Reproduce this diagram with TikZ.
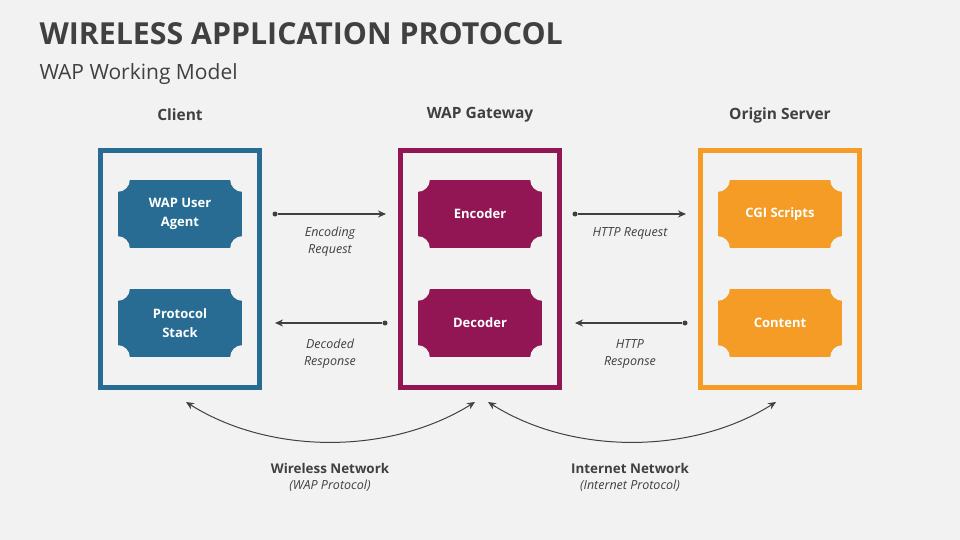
\documentclass[tikz,border=0pt]{standalone}
\usepackage{fontspec}
\setmainfont{Open Sans}
\usetikzlibrary{arrows.meta}
\definecolor{bg}{HTML}{F2F2F2}
\definecolor{cb}{HTML}{286C93}
\definecolor{cm}{HTML}{931654}
\definecolor{co}{HTML}{F49C26}
\definecolor{tx}{HTML}{404040}
\begin{document}
\begin{tikzpicture}[x=1pt,y=-1pt,
 frame/.style={draw=#1,line width=5pt,fill=bg,minimum width=159pt,minimum height=237pt,inner sep=0pt},
 blk/.style={fill=#1,text=white,minimum width=124pt,minimum height=68pt,align=center,font=\fontsize{13}{19}\selectfont\bfseries,inner sep=0pt},
 hdr/.style={text=tx,font=\fontsize{15.5}{19}\selectfont\bfseries},
 lab/.style={text=tx,font=\fontsize{12.5}{17}\selectfont\itshape,align=center},
 arr/.style={draw=tx,line width=1.3pt,-{Stealth[length=8pt,width=7pt]}},
 dot/.style={circle,fill=tx,inner sep=0pt,minimum size=5pt}]
\fill[bg] (0,0) rectangle (960,540);
\useasboundingbox (0,0) rectangle (960,540);
\node[anchor=west,text=tx,font=\fontsize{30.3}{36}\selectfont\bfseries] (t) at (36,34) {WIRELESS APPLICATION PROTOCOL};
\node[anchor=west,text=tx,font=\fontsize{21}{24}\selectfont] (st) at (36,74) {WAP Working Model};
\node[hdr] (h1) at (180,115) {Client};
\node[hdr] (h2) at (480,115) {WAP Gateway};
\node[hdr] (h3) at (780,115) {Origin Server};
\node[frame=cb] (f1) at (180,269) {};
\node[frame=cm] (f2) at (480,269) {};
\node[frame=co] (f3) at (780,269) {};
\foreach \n/\x/\y/\c/\t in {a/180/214/cb/{WAP User\\Agent},b/180/323/cb/{Protocol\\Stack},c/480/214/cm/Encoder,d/480/323/cm/Decoder,e/780/214/co/CGI Scripts,f/780/323/co/Content}{
 \node[blk=\c] (\n) at (\x,\y) {\t};
 \foreach \cc in {north west,north east,south west,south east}
  \fill[bg] (\n.\cc) circle (12pt);
}
\foreach \n/\x/\y in {p1/275/214,p2/385/323,p3/575/214,p4/685/323}
 \node[dot] (\n) at (\x,\y) {};
\coordinate (q1) at (386,214);
\coordinate (q2) at (275,323);
\coordinate (q3) at (686,214);
\coordinate (q4) at (575,323);
\draw[arr] (p1) -- (q1);
\draw[arr] (p2) -- (q2);
\draw[arr] (p3) -- (q3);
\draw[arr] (p4) -- (q4);
\node[lab] (l1) at (330,242) {Encoding\\Request};
\node[lab] (l2) at (330,354) {Decoded\\Response};
\node[lab] (l3) at (630,234) {HTTP Request};
\node[lab] (l4) at (630,354) {HTTP\\Response};
\coordinate (c1) at (186,402);
\coordinate (c2) at (475,402);
\coordinate (c3) at (488,402);
\coordinate (c4) at (776,402);
\draw[draw=tx,line width=1pt,{Stealth[length=8pt,width=7pt]}-{Stealth[length=8pt,width=7pt]}] (c1) .. controls (270,455) and (390,455) .. (c2);
\draw[draw=tx,line width=1pt,{Stealth[length=8pt,width=7pt]}-{Stealth[length=8pt,width=7pt]}] (c3) .. controls (572,455) and (692,455) .. (c4);
\node[text=tx,font=\fontsize{13.4}{17}\selectfont\bfseries] (n1) at (330,468) {Wireless Network};
\node[text=tx,font=\fontsize{12.5}{15}\selectfont\itshape] (n1b) at (330,486) {(WAP Protocol)};
\node[text=tx,font=\fontsize{13.4}{17}\selectfont\bfseries] (n2) at (630,468) {Internet Network};
\node[text=tx,font=\fontsize{12.5}{15}\selectfont\itshape] (n2b) at (630,486) {(Internet Protocol)};
\end{tikzpicture}
\end{document}
